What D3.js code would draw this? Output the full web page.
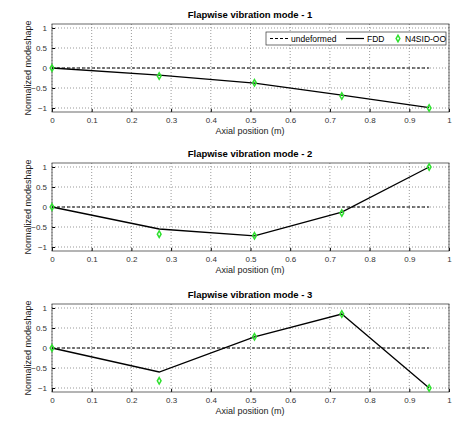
<!DOCTYPE html><html><head><meta charset="utf-8">
<script src="https://cdn.jsdelivr.net/npm/d3@7"></script>
<style>body{margin:0;background:#fff}text{font-family:"Liberation Sans",Arial,sans-serif}</style></head><body>
<svg id="c" width="474" height="427"></svg>
<script>
const xPos=[0,0.27,0.51,0.73,0.95];
const titles=["Flapwise vibration mode - 1","Flapwise vibration mode - 2","Flapwise vibration mode - 3"];
const fdd=[[0,-0.18,-0.38,-0.68,-0.99],[0,-0.55,-0.72,-0.13,1],[0,-0.6,0.28,0.85,-1]];
const n4sid=[[0,-0.2,-0.37,-0.7,-1],[0,-0.68,-0.72,-0.15,1],[0,-0.82,0.28,0.85,-1]];
const xTicks=[0,0.1,0.2,0.3,0.4,0.5,0.6,0.7,0.8,0.9,1];
const yTicks=[-1,-0.5,0,0.5,1];
const svg=d3.select("#c");
const tops=[24,163,304];
const x=d3.scaleLinear().domain([0,1]).range([52,449]);
const diamond=d3.symbol(d3.symbolDiamond,12)();
tops.forEach((t,i)=>{
  const y=d3.scaleLinear().domain([-1.1,1.1]).range([t+88,t]);
  const g=svg.append("g");
  xTicks.forEach(v=>g.append("line").attr("x1",x(v)).attr("x2",x(v)).attr("y1",t).attr("y2",t+88).attr("stroke","#555").attr("stroke-width",0.6).attr("stroke-dasharray","1,2"));
  yTicks.forEach(v=>g.append("line").attr("x1",52).attr("x2",449).attr("y1",y(v)).attr("y2",y(v)).attr("stroke","#555").attr("stroke-width",0.6).attr("stroke-dasharray","1,2"));
  g.append("g").attr("transform",`translate(0,${t+88})`).call(d3.axisBottom(x).tickValues(xTicks).tickFormat(d3.format("")).tickSize(-3).tickPadding(5))
   .call(a=>a.selectAll("text").attr("font-size",8).attr("fill","#333")).call(a=>a.select(".domain").remove());
  g.append("g").attr("transform","translate(52,0)").call(d3.axisLeft(y).tickValues(yTicks).tickFormat(d3.format("")).tickSize(-3).tickPadding(5))
   .call(a=>a.selectAll("text").attr("font-size",8).attr("fill","#333")).call(a=>a.select(".domain").remove());
  g.append("rect").attr("x",52).attr("y",t).attr("width",397).attr("height",88).attr("fill","none").attr("stroke","#444").attr("stroke-width",0.8);
  g.append("line").attr("x1",x(0)).attr("x2",x(0.95)).attr("y1",y(0)).attr("y2",y(0)).attr("stroke","#000").attr("stroke-width",1).attr("stroke-dasharray","3,2");
  g.append("path").datum(fdd[i]).attr("d",d3.line().x((d,j)=>x(xPos[j])).y(d=>y(d))).attr("fill","none").attr("stroke","#000").attr("stroke-width",1.3);
  n4sid[i].forEach((d,j)=>g.append("path").attr("d",diamond).attr("transform",`translate(${x(xPos[j])},${y(d)})`).attr("fill","none").attr("stroke","#2ee02e").attr("stroke-width",1.5));
  g.append("text").attr("x",250).attr("y",t-6).attr("text-anchor","middle").attr("font-size",9.5).attr("font-weight","bold").text(titles[i]);
  g.append("text").attr("x",250).attr("y",t+110).attr("text-anchor","middle").attr("font-size",9).attr("fill","#222").text("Axial position (m)");
  g.append("text").attr("transform",`translate(31,${t+44}) rotate(-90)`).attr("text-anchor","middle").attr("font-size",9).attr("fill","#222").text("Normalized modeshape");
  if(i===0){
    const lg=g.append("g");
    lg.append("rect").attr("x",266).attr("y",32).attr("width",180).attr("height",13).attr("fill","#fff").attr("stroke","#333").attr("stroke-width",0.7);
    lg.append("line").attr("x1",270).attr("x2",288).attr("y1",38.5).attr("y2",38.5).attr("stroke","#000").attr("stroke-dasharray","3,2");
    lg.append("text").attr("x",291).attr("y",42).attr("font-size",8.5).text("undeformed");
    lg.append("line").attr("x1",346).attr("x2",364).attr("y1",38.5).attr("y2",38.5).attr("stroke","#000").attr("stroke-width",1.2);
    lg.append("text").attr("x",367).attr("y",42).attr("font-size",8.5).text("FDD");
    lg.append("path").attr("d",diamond).attr("transform","translate(398,38.5)").attr("fill","none").attr("stroke","#2ee02e").attr("stroke-width",1.5);
    lg.append("text").attr("x",405).attr("y",42).attr("font-size",8.5).text("N4SID-OO");
  }
});
</script></body></html>
